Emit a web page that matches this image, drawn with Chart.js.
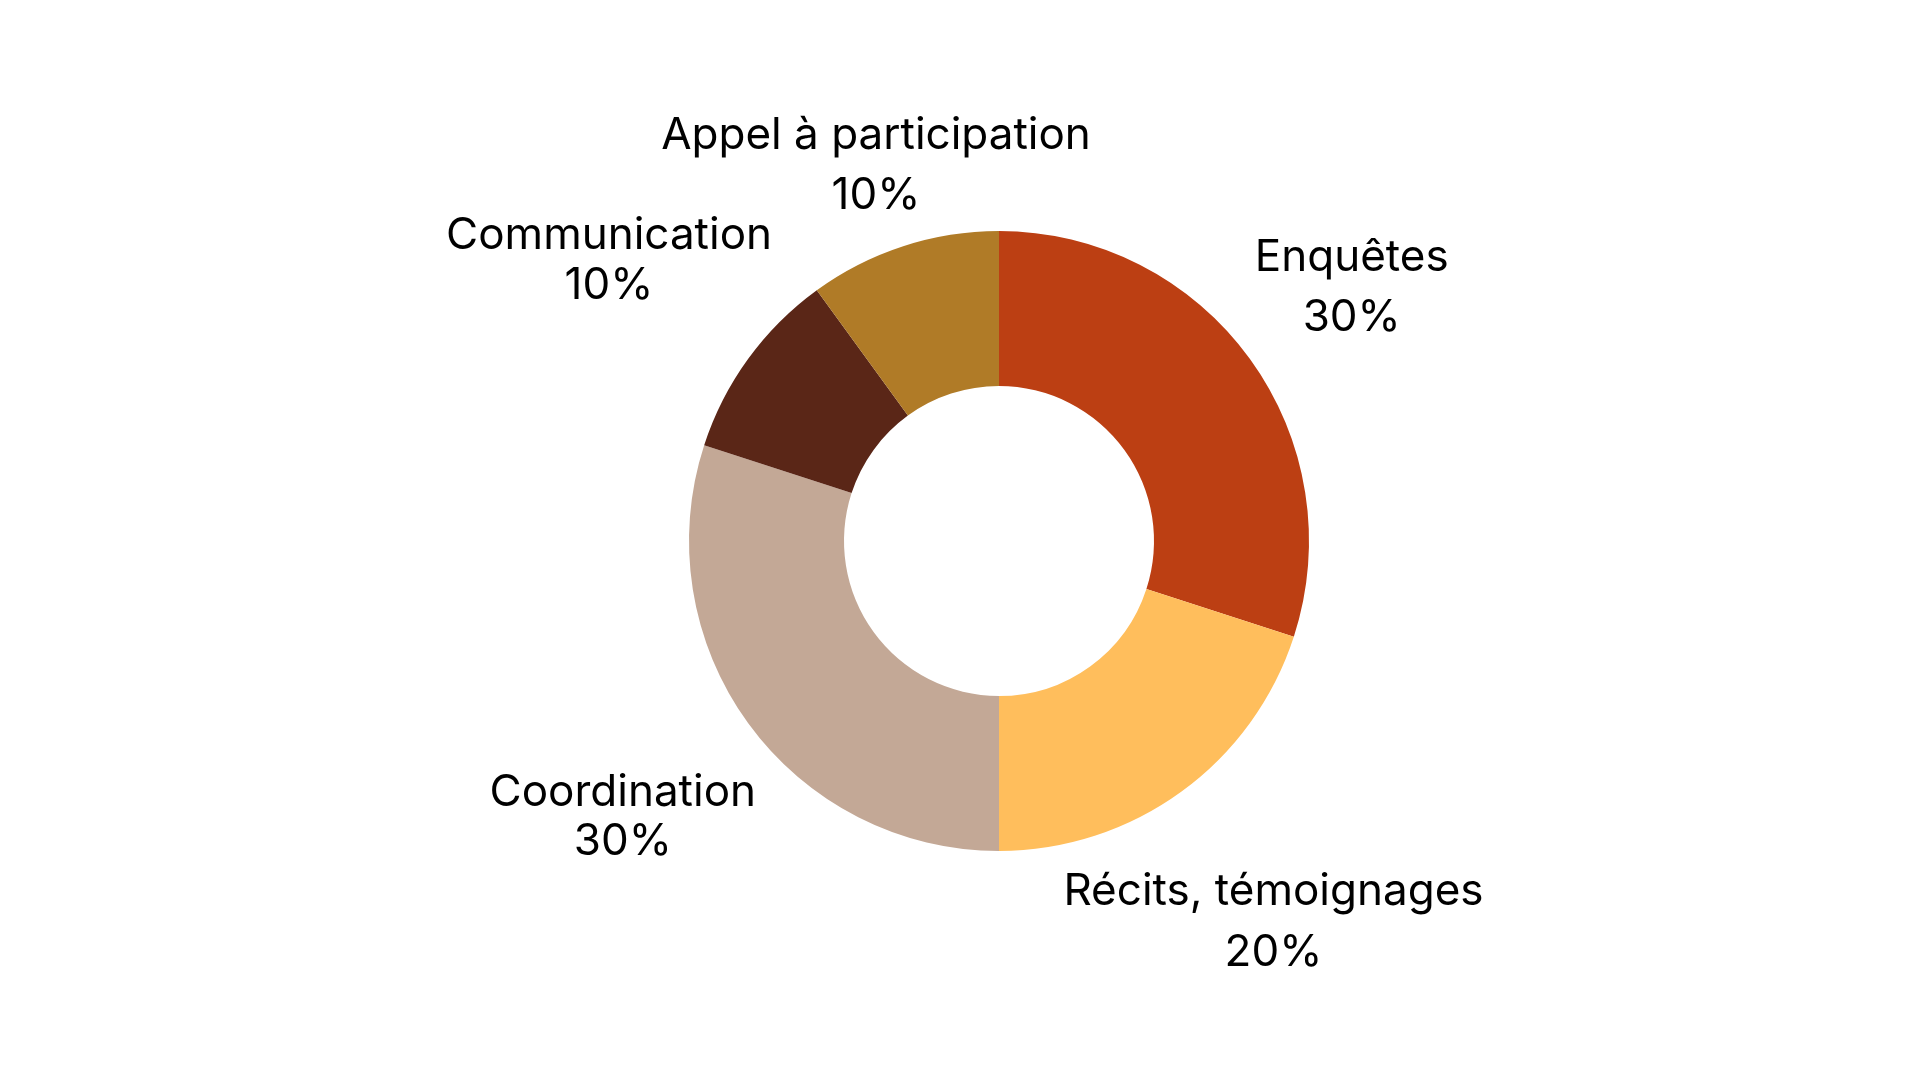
<!DOCTYPE html>
<html>
<head>
<meta charset="utf-8">
<script src="https://cdn.jsdelivr.net/npm/chart.js@4/dist/chart.umd.min.js"></script>
<style>
  html, body { margin: 0; padding: 0; background: #ffffff; }
  #wrap { width: 1920px; height: 1080px; }
</style>
</head>
<body>
<div id="wrap"><canvas id="c" width="1920" height="1080"></canvas></div>
<script>
const categories = ["Enquêtes", "Récits, témoignages", "Coordination", "Communication", "Appel à participation"];
const values = [30, 20, 30, 10, 10];
const colors = ["#BC3F13", "#FFBE5C", "#C3A896", "#5A2617", "#B07B27"];

// label placement styles (radius from centre, gap between the two lines)
const labelStyle = [
  { r: 436, gap: 60 },
  { r: 467, gap: 61 },
  { r: 465, gap: 49 },
  { r: 482, gap: 50 },
  { r: 398, gap: 60 }
];

const outsideLabels = {
  id: 'outsideLabels',
  afterDatasetsDraw(chart) {
    const ctx = chart.ctx;
    const meta = chart.getDatasetMeta(0);
    const data = chart.data.datasets[0].data;
    const total = data.reduce((a, b) => a + b, 0);
    ctx.save();
    ctx.fillStyle = '#000000';
    ctx.font = '400 44px Inter, "Open Sans", sans-serif';
    ctx.textAlign = 'center';
    ctx.textBaseline = 'middle';
    meta.data.forEach((arc, i) => {
      const p = arc.getProps(['x', 'y', 'startAngle', 'endAngle'], true);
      const mid = (p.startAngle + p.endAngle) / 2;
      const st = labelStyle[i];
      const cx = p.x + Math.cos(mid) * st.r;
      const cy = p.y + Math.sin(mid) * st.r + 3;
      const pct = Math.round(data[i] / total * 100) + '%';
      ctx.fillText(chart.data.labels[i], cx, cy - st.gap / 2);
      ctx.fillText(pct, cx, cy + st.gap / 2);
    });
    ctx.restore();
  }
};

new Chart(document.getElementById('c'), {
  type: 'doughnut',
  data: {
    labels: categories,
    datasets: [{
      data: values,
      backgroundColor: colors,
      borderWidth: 0,
      hoverOffset: 0
    }]
  },
  options: {
    responsive: false,
    animation: false,
    cutout: '50%',
    layout: { padding: { top: 231, bottom: 229, left: 689, right: 611 } },
    plugins: {
      legend: { display: false },
      tooltip: { enabled: false }
    },
    events: []
  },
  plugins: [outsideLabels]
});
</script>
</body>
</html>
